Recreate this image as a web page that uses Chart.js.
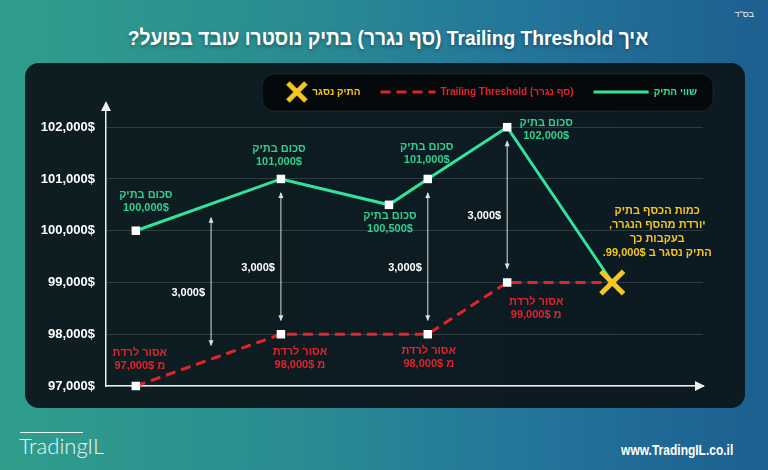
<!DOCTYPE html>
<html lang="he">

<head>
    <meta charset="UTF-8">
    <title>Trailing Threshold</title>
    <script src="https://cdn.jsdelivr.net/npm/chart.js"></script>
    <style>
        html, body { margin: 0; padding: 0; }
        body {
            width: 768px; height: 470px; position: relative; overflow: hidden;
            background: linear-gradient(90deg, #2f9e8b 0%, #2a8b93 40%, #23749a 70%, #1c5f90 100%);
            font-family: 'Liberation Sans', 'DejaVu Sans', sans-serif;
        }
        #panel {
            position: absolute; left: 25px; top: 63px; width: 720px; height: 345px;
            border-radius: 14px; background: rgba(12, 22, 27, 0.95);
        }
        #bsd { position: absolute; right: 14px; top: 9px; font-size: 9px; color: #e6eef2; }
        #title {
            position: absolute; left: 88px; top: 26px; width: 600px; text-align: center;
            font-size: 21px; font-weight: bold; color: #fff; text-shadow: 0 2px 4px rgba(0,0,0,0.35);
            transform: scaleX(0.915);
        }
        #logo {
            position: absolute; left: 19px; top: 434px; font-family: Lato, sans-serif; font-weight: 300;
            font-size: 22px; color: #eef6f5; line-height: 24px;
        }
        #logo::before {
            content: ''; position: absolute; left: 1px; top: -2px; width: 63px; border-top: 1px solid #eef6f5;
        }
        #site {
            position: absolute; right: 35px; top: 441px; font-size: 15px; font-weight: bold; color: #fff;
            transform: scaleX(0.8); transform-origin: right center;
        }
        #chart { position: absolute; left: 0; top: 0; direction: rtl; }
    </style>
</head>

<body>
    <div id="panel"></div>
    <div id="bsd" dir="rtl">בס"ד</div>
    <div id="title" dir="rtl">איך Trailing Threshold (סף נגרר) בתיק נוסטרו עובד בפועל?</div>
    <div id="logo">TradingIL</div>
    <div id="site">www.TradingIL.co.il</div>
    <canvas id="chart" width="768" height="470"></canvas>

    <script>
        // time steps along the (unlabelled) x axis
        const steps = [5.0, 29.3, 47.4, 53.9, 67.2, 84.8];
        const portfolioValues = [100000, 101000, 100500, 101000, 102000, 99000];
        const thresholdValues = [97000, 98000, null, 98000, 99000, 99000];
        const closeStep = 84.8;
        const closeValue = 99000;
        const yTicks = [97000, 98000, 99000, 100000, 101000, 102000];
        const seriesNames = ['שווי התיק', '(סף נגרר) Trailing Threshold', 'התיק נסגר'];
        const gapSteps = [17.6, 29.3, 53.9, 67.2];
        const gapValue = 3000;

        const FONT = "'Liberation Sans', 'DejaVu Sans', sans-serif";
        const GREEN = '#34e39b', GREEN_TXT = '#2fcf8e', RED = '#e3232c', YELLOW = '#f6c71c';
        const DASH = [10, 6];
        const fmt = v => v.toLocaleString('en-US') + '$';

        Chart.defaults.font.family = FONT;

        // X icon for the legend (drawn on the right side of a box-wide image)
        const xIcon = document.createElement('canvas');
        xIcon.width = 60; xIcon.height = 24;
        (function () {
            const c = xIcon.getContext('2d');
            c.strokeStyle = YELLOW; c.lineWidth = 5;
            c.beginPath();
            c.moveTo(38, 3); c.lineTo(56, 21);
            c.moveTo(56, 3); c.lineTo(38, 21);
            c.stroke();
        })();

        function pixelYAt(meta, px) {
            const pts = meta.data.filter(p => !p.skip);
            for (let i = 0; i < pts.length - 1; i++) {
                const a = pts[i], b = pts[i + 1];
                if (px >= a.x && px <= b.x) {
                    return a.y + (b.y - a.y) * (px - a.x) / (b.x - a.x);
                }
            }
            return pts[0].y;
        }

        // text offsets next to the points (dx, dy of first line)
        const portfolioLabelPos = [[10, -36], [-2, -30], [1, 11], [-1, -32], [39, -4], null];
        const thresholdLabelPos = [[4, -33], [19, 18], null, [1, 17], [29, 19], null];

        const legendBox = {
            id: 'legendBox',
            beforeDraw(chart) {
                const lg = chart.legend;
                if (!lg || !lg.legendHitBoxes.length) return;
                const hb = lg.legendHitBoxes;
                const l = Math.min(...hb.map(h => h.left)) + 10;
                const r = Math.max(...hb.map(h => h.left + h.width)) + 16;
                const mid = hb[0].top + hb[0].height / 2;
                const ctx = chart.ctx;
                ctx.save();
                ctx.fillStyle = '#05090b';
                ctx.strokeStyle = 'rgba(255,255,255,0.08)';
                ctx.beginPath();
                ctx.roundRect(l, mid - 18, r - l, 37, 12);
                ctx.fill();
                ctx.stroke();
                ctx.restore();
            }
        };

        const notes = {
            id: 'notes',
            afterDatasetsDraw(chart) {
                const ctx = chart.ctx;
                const x = chart.scales.x, y = chart.scales.y;
                const area = chart.chartArea;
                ctx.save();
                ctx.direction = 'rtl';
                ctx.textAlign = 'center';
                ctx.textBaseline = 'middle';

                // axis arrowheads
                ctx.fillStyle = '#f0f0f0';
                ctx.beginPath();
                ctx.moveTo(area.left, area.top - 6);
                ctx.lineTo(area.left - 5, area.top + 4);
                ctx.lineTo(area.left + 5, area.top + 4);
                ctx.fill();
                ctx.beginPath();
                ctx.moveTo(area.right + 2, area.bottom);
                ctx.lineTo(area.right - 8, area.bottom - 5);
                ctx.lineTo(area.right - 8, area.bottom + 5);
                ctx.fill();

                ctx.font = 'bold 11px ' + FONT;
                portfolioValues.forEach((v, i) => {
                    const p = portfolioLabelPos[i];
                    if (!p) return;
                    const px = x.getPixelForValue(steps[i]) + p[0];
                    const py = y.getPixelForValue(v) + p[1];
                    ctx.fillStyle = GREEN_TXT;
                    ctx.fillText('סכום בתיק', px, py);
                    ctx.fillText(fmt(v), px, py + 13);
                });
                thresholdValues.forEach((v, i) => {
                    const p = thresholdLabelPos[i];
                    if (!p || v === null) return;
                    const px = x.getPixelForValue(steps[i]) + p[0];
                    const py = y.getPixelForValue(v) + p[1];
                    ctx.fillStyle = RED;
                    ctx.fillText('אסור לרדת', px, py);
                    ctx.fillText('מ ' + fmt(v), px, py + 13);
                });

                // closing note
                const cx = x.getPixelForValue(closeStep) + 45;
                const cy = y.getPixelForValue(closeValue) - 72;
                ctx.fillStyle = YELLOW;
                ['כמות הכסף בתיק', 'יורדת מהסף הנגרר,', 'בעקבות כך', 'התיק נסגר ב ' + fmt(closeValue) + '.']
                    .forEach((t, k) => ctx.fillText(t, cx, cy + k * 14.3));

                // 3,000$ gap arrows
                const top = chart.getDatasetMeta(1), bot = chart.getDatasetMeta(2);
                ctx.strokeStyle = '#d9dee0';
                ctx.fillStyle = '#d9dee0';
                ctx.lineWidth = 1;
                gapSteps.forEach(s => {
                    const px = x.getPixelForValue(s);
                    const y1 = pixelYAt(top, px) + 14;
                    const y2 = pixelYAt(bot, px) - 14;
                    ctx.beginPath();
                    ctx.moveTo(px, y1); ctx.lineTo(px, y2);
                    ctx.stroke();
                    ctx.beginPath();
                    ctx.moveTo(px, y1 - 1); ctx.lineTo(px - 2.5, y1 + 5); ctx.lineTo(px + 2.5, y1 + 5);
                    ctx.moveTo(px, y2 + 1); ctx.lineTo(px - 2.5, y2 - 5); ctx.lineTo(px + 2.5, y2 - 5);
                    ctx.fill();
                    ctx.save();
                    ctx.fillStyle = '#ffffff';
                    ctx.textAlign = 'right';
                    ctx.direction = 'ltr';
                    ctx.font = 'bold 11px ' + FONT;
                    ctx.fillText(fmt(gapValue), px - 6, (y1 + y2) / 2 + 11);
                    ctx.restore();
                });
                ctx.restore();
            }
        };

        new Chart(document.getElementById('chart'), {
            type: 'line',
            data: {
                datasets: [{
                    label: seriesNames[2],
                    data: [{ x: closeStep, y: closeValue }],
                    showLine: false,
                    pointStyle: 'crossRot',
                    pointRadius: 16,
                    pointBorderWidth: 5,
                    borderColor: YELLOW,
                    backgroundColor: YELLOW,
                    pointBorderColor: YELLOW,
                    order: 0,
                    clip: false
                }, {
                    label: seriesNames[0],
                    data: steps.map((s, i) => ({ x: s, y: portfolioValues[i] })),
                    borderColor: GREEN,
                    backgroundColor: GREEN,
                    borderWidth: 3,
                    pointStyle: 'rect',
                    pointRadius: [6, 6, 6, 6, 6, 0],
                    pointBackgroundColor: '#ffffff',
                    pointBorderColor: '#ffffff',
                    pointBorderWidth: 0,
                    order: 1,
                    clip: false
                }, {
                    label: seriesNames[1],
                    data: steps.map((s, i) => ({ x: s, y: thresholdValues[i] })),
                    borderColor: RED,
                    backgroundColor: RED,
                    borderWidth: 3,
                    borderDash: DASH,
                    tension: 0,
                    spanGaps: true,
                    pointStyle: 'rect',
                    pointRadius: [6, 6, 0, 6, 6, 0],
                    pointBackgroundColor: '#ffffff',
                    pointBorderColor: '#ffffff',
                    pointBorderWidth: 0,
                    order: 2,
                    clip: false
                }]
            },
            options: {
                responsive: false,
                animation: false,
                layout: { padding: { top: 67, left: 0, right: 51, bottom: 84 } },
                plugins: {
                    tooltip: { enabled: false },
                    legend: {
                        position: 'top',
                        align: 'end',
                        labels: {
                            usePointStyle: true,
                            pointStyleWidth: 55,
                            padding: 20,
                            font: { size: 10, weight: 'bold' },
                            generateLabels(chart) {
                                const items = Chart.defaults.plugins.legend.labels.generateLabels(chart)
                                    .sort((a, b) => a.datasetIndex - b.datasetIndex);
                                const colors = [YELLOW, GREEN, RED];
                                items.forEach(it => {
                                    const c = colors[it.datasetIndex];
                                    it.fontColor = c;
                                    it.strokeStyle = c;
                                    it.fillStyle = c;
                                    if (it.datasetIndex === 0) {
                                        it.pointStyle = xIcon;
                                    } else {
                                        it.pointStyle = 'line';
                                        it.lineWidth = 3;
                                        it.lineDash = it.datasetIndex === 2 ? DASH : [];
                                    }
                                });
                                // left to right: X, red, green
                                return [items[0], items[2], items[1]];
                            }
                        }
                    }
                },
                scales: {
                    x: {
                        type: 'linear',
                        min: 0,
                        max: 100,
                        ticks: { display: false },
                        grid: { display: false, drawTicks: false },
                        border: { display: true, color: '#eeeeee', width: 1.5 }
                    },
                    y: {
                        min: 97000,
                        max: 102390,
                        afterBuildTicks: s => { s.ticks = yTicks.map(v => ({ value: v })); },
                        afterFit: s => { s.width = 106; },
                        ticks: {
                            color: '#ffffff',
                            padding: 11,
                            font: { size: 13, weight: 'bold' },
                            callback: v => fmt(v)
                        },
                        grid: { color: 'rgba(255,255,255,0.14)', drawTicks: false },
                        border: { display: true, color: '#eeeeee', width: 1.5 }
                    },
                    // empty right-hand gutter so the legend can reach past the plot edge
                    gutter: {
                        position: 'right',
                        min: 97000,
                        max: 102390,
                        ticks: { display: false },
                        grid: { display: false, drawTicks: false },
                        border: { display: false },
                        afterFit: s => { s.width = 14; }
                    }
                }
            },
            plugins: [legendBox, notes]
        });
    </script>
</body>

</html>
